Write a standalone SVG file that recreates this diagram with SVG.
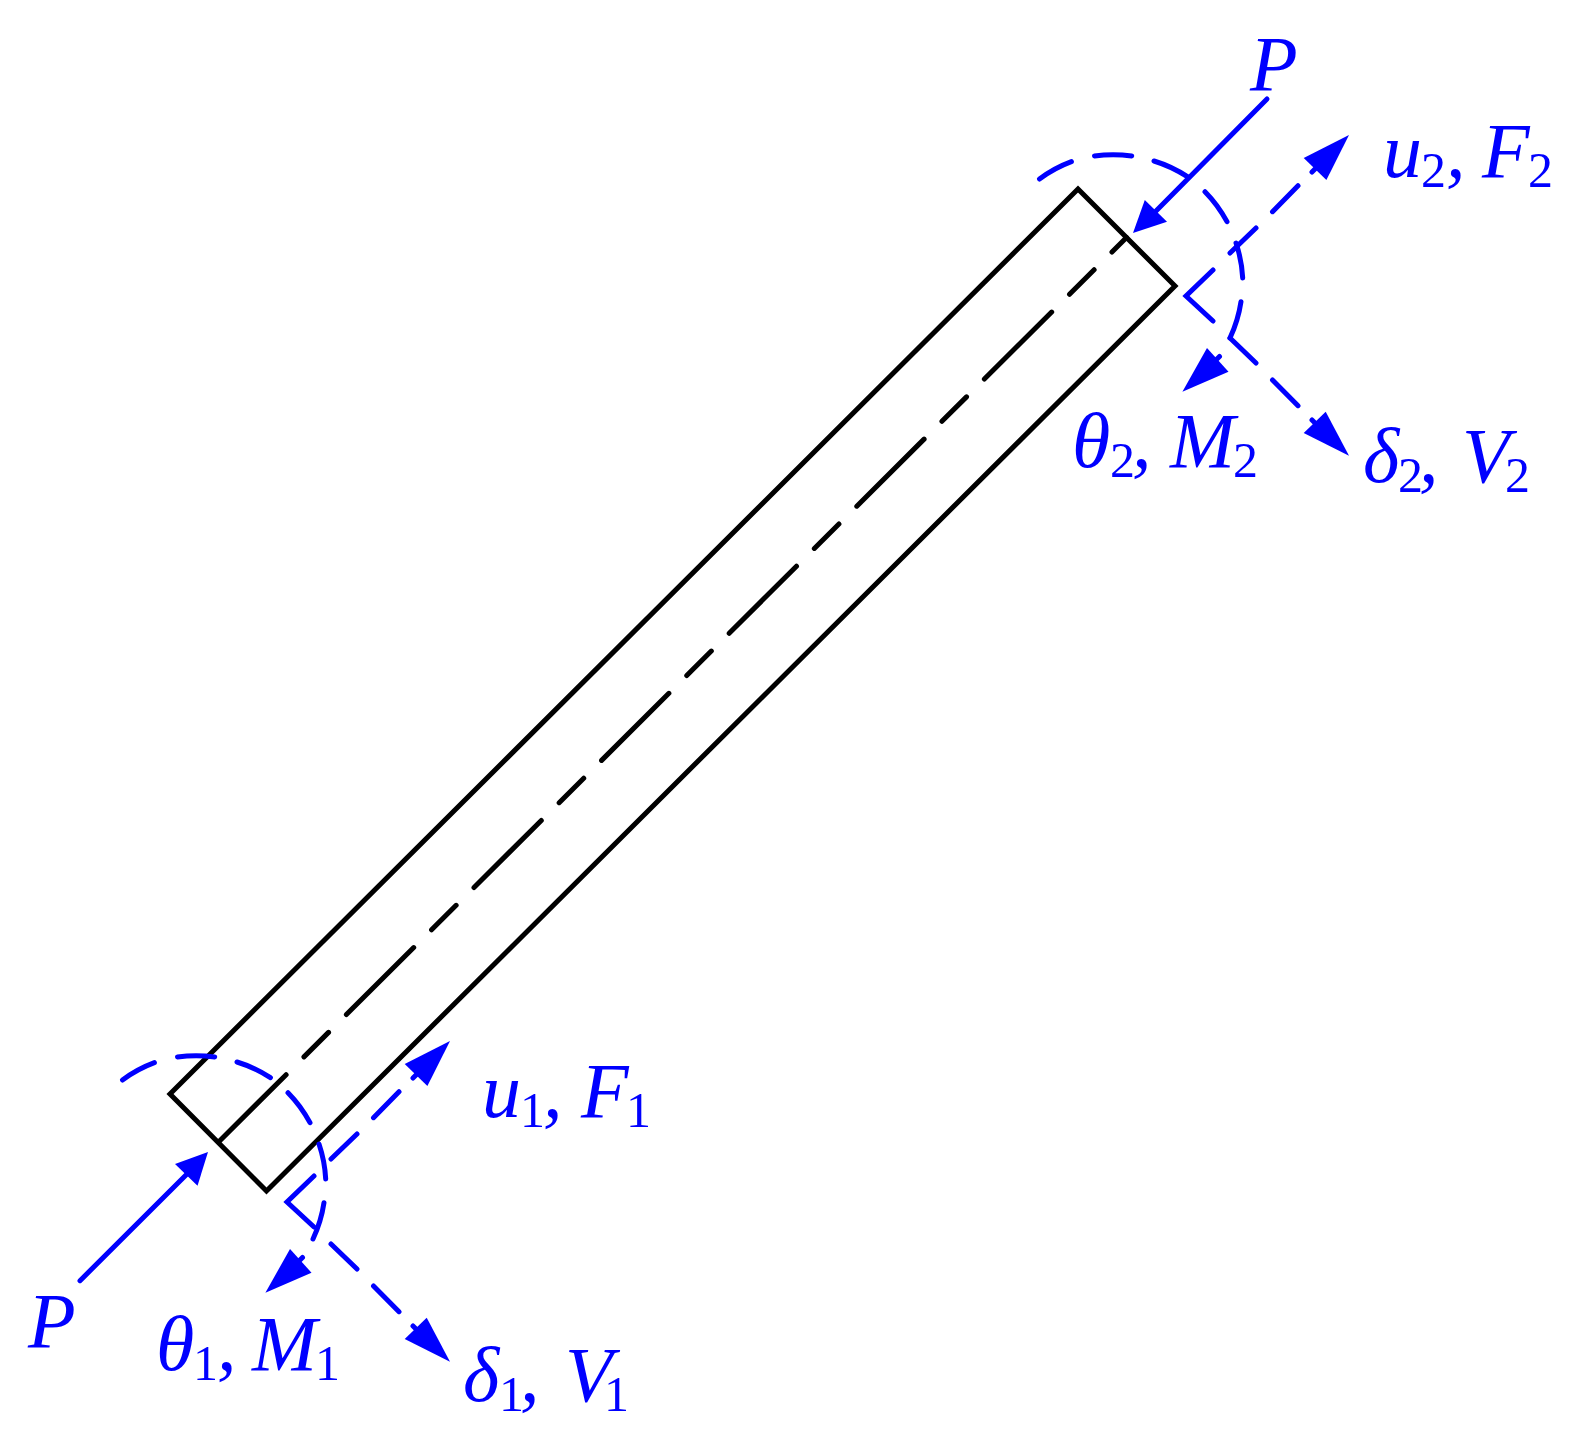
<svg xmlns="http://www.w3.org/2000/svg" width="1576" height="1440" viewBox="0 0 1576 1440">
<style>
.k{fill:none;stroke:#000;stroke-width:5;stroke-linecap:round;stroke-linejoin:miter}
.b{fill:none;stroke:#00f;stroke-width:5;stroke-linecap:round;stroke-linejoin:miter}
.h{fill:#00f;stroke:none}
text{font-family:"Liberation Serif","Times New Roman",serif;font-style:italic;font-size:78px;fill:#00f}
.s{font-style:normal;font-size:50px}
</style>
<defs>
<g id="axes">
<path class="b" d="M1213 270L1186 296L1213 321M1230 253L1256 228M1272.500 211.700L1298 185.700M1312 172L1316 168M1230 338L1256 363M1272.500 380L1298 405.700M1312 420L1316 424"/>
<polygon class="h" points="1349,135 1303.700,158 1326.400,180"/>
<polygon class="h" points="1349,455.700 1325.700,411.700 1303.700,433"/>
</g>
<g id="arc">
<path class="b" d="M1039.500 179A130 130 0 0 1 1071.400 161.700M1094.500 156A130 130 0 0 1 1131.700 156M1154 161A130 130 0 0 1 1187.400 176.700M1205 191.700A130 130 0 0 1 1227 221.700M1236 243A130 130 0 0 1 1242.700 278M1241 301.700A130 130 0 0 1 1230 338M1219.500 356.500L1216 360"/>
<polygon class="h" points="1182.400,391.700 1207,348 1228.500,371.700"/>
</g>
</defs>
<g id="member">
<polygon class="k" points="1078,189 1175,286 266.500,1191 170,1094"/>
</g>
<g id="connectors">
<path id="centerline" class="k" d="M218.800 1141.700L1126.500 237.500" stroke-dasharray="95 25.200 34.700 25.200"/>
<g id="end-2">
<use href="#axes"/>
<use href="#arc"/>
<path class="b" d="M1267 99L1156 211"/>
<polygon class="h" points="1133,233 1144.800,200 1167,221.700"/>
</g>
<g id="end-1">
<use href="#axes" transform="translate(-899 906)"/>
<use href="#arc" transform="translate(-917 901)"/>
<path class="b" d="M80 1280.700L186 1175"/>
<polygon class="h" points="208,1152 175,1164 197.500,1185.700"/>
</g>
</g>
<g id="labels">
<text x="1250" y="90">P</text>
<text x="1383" y="177">u</text><text class="s" x="1421" y="187">2</text><text x="1446" y="177">,</text><text x="1482" y="177">F</text><text class="s" x="1528" y="187">2</text>
<text x="1072" y="467">θ</text><text class="s" x="1110" y="477">2</text><text x="1132" y="467">,</text><text x="1170" y="467">M</text><text class="s" x="1233" y="477">2</text>
<text x="1363" y="482">δ</text><text class="s" x="1398" y="492">2</text><text x="1419" y="482">,</text><text x="1462" y="482">V</text><text class="s" x="1505" y="492">2</text>
<text x="28" y="1347">P</text>
<text x="482" y="1117">u</text><text class="s" x="520" y="1127">1</text><text x="543" y="1117">,</text><text x="581" y="1117">F</text><text class="s" x="626" y="1127">1</text>
<text x="156" y="1370">θ</text><text class="s" x="193" y="1380">1</text><text x="217" y="1370">,</text><text x="252" y="1370">M</text><text class="s" x="315" y="1380">1</text>
<text x="463" y="1401">δ</text><text class="s" x="499" y="1411">1</text><text x="520" y="1401">,</text><text x="565" y="1401">V</text><text class="s" x="604" y="1411">1</text>
</g>
</svg>
